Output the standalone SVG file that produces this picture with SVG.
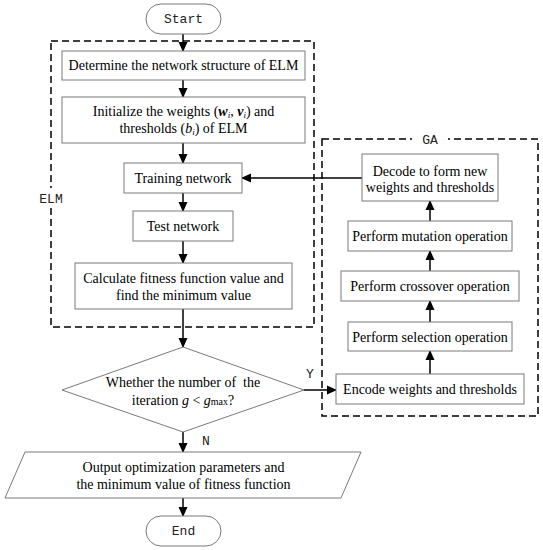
<svg xmlns="http://www.w3.org/2000/svg" width="543" height="550" viewBox="0 0 543 550">
<style>
.box{fill:#fff;stroke:#7a7a7a;stroke-width:1}
.dash{fill:none;stroke:#000;stroke-width:1.5;stroke-dasharray:7,4}
.t{font-family:"Liberation Serif","Times New Roman",serif;font-size:14px;fill:#000;text-anchor:middle}
.m{font-family:"Liberation Mono","Courier New",monospace;font-size:13px;fill:#222;text-anchor:middle}
.c{fill:none;stroke:#000;stroke-width:1.5}
</style>
<defs>
<marker id="ah" markerWidth="10" markerHeight="10" refX="9" refY="5" orient="auto" markerUnits="userSpaceOnUse">
<path d="M0,0.5 L10,5 L0,9.5 Z" fill="#000"/>
</marker>
</defs>
<rect width="543" height="550" fill="#fff"/>
<g id="elm-group">
<rect class="dash" x="51" y="41" width="263" height="286"/>
<rect x="36" y="188" width="30" height="18" fill="#fff"/>
<text class="m" x="51" y="203">ELM</text>
</g>
<g id="ga-group">
<rect class="dash" x="322" y="139" width="216" height="277"/>
<rect x="412" y="130" width="36" height="18" fill="#fff"/>
<text class="m" x="430" y="144">GA</text>
</g>
<g id="connectors">
<line class="c" x1="183" y1="34" x2="183" y2="51" marker-end="url(#ah)"/>
<line class="c" x1="183" y1="80" x2="183" y2="97" marker-end="url(#ah)"/>
<line class="c" x1="183" y1="143" x2="183" y2="163" marker-end="url(#ah)"/>
<line class="c" x1="183" y1="193" x2="183" y2="211" marker-end="url(#ah)"/>
<line class="c" x1="183" y1="241" x2="183" y2="263" marker-end="url(#ah)"/>
<line class="c" x1="183" y1="309" x2="183" y2="347" marker-end="url(#ah)"/>
<line class="c" x1="183" y1="432" x2="183" y2="452" marker-end="url(#ah)"/>
<line class="c" x1="183" y1="498" x2="183" y2="516" marker-end="url(#ah)"/>
<line class="c" x1="304" y1="390" x2="336" y2="390" marker-end="url(#ah)"/>
<line class="c" x1="430" y1="374" x2="430" y2="351" marker-end="url(#ah)"/>
<line class="c" x1="430" y1="322" x2="430" y2="301" marker-end="url(#ah)"/>
<line class="c" x1="430" y1="271" x2="430" y2="251" marker-end="url(#ah)"/>
<line class="c" x1="430" y1="221" x2="430" y2="201" marker-end="url(#ah)"/>
<line class="c" x1="362" y1="178" x2="242" y2="178" marker-end="url(#ah)"/>
<text class="m" x="310" y="378">Y</text>
<text class="m" x="206" y="445">N</text>
</g>
<g id="start">
<rect class="box" x="146" y="4" width="75" height="30" rx="15" ry="15"/>
<text class="m" x="183.5" y="23">Start</text>
</g>
<g id="determine">
<rect class="box" x="62" y="51" width="243" height="29"/>
<text class="t" x="183.5" y="70">Determine the network structure of ELM</text>
</g>
<g id="initialize">
<rect class="box" x="62" y="97" width="243" height="46"/>
<text class="t" x="183.5" y="116">Initialize the weights (<tspan font-weight="bold" font-style="italic">w</tspan><tspan font-size="9" font-style="italic" dy="2">i</tspan><tspan dy="-2">, </tspan><tspan font-weight="bold" font-style="italic">v</tspan><tspan font-size="9" font-style="italic" dy="2">i</tspan><tspan dy="-2">) and</tspan></text>
<text class="t" x="183.5" y="133">thresholds (<tspan font-style="italic">b</tspan><tspan font-size="9" font-style="italic" dy="2">i</tspan><tspan dy="-2">) of ELM</tspan></text>
</g>
<g id="training">
<rect class="box" x="124" y="163" width="118" height="30"/>
<text class="t" x="183" y="183">Training network</text>
</g>
<g id="test">
<rect class="box" x="133" y="211" width="100" height="30"/>
<text class="t" x="183" y="231">Test network</text>
</g>
<g id="calculate">
<rect class="box" x="75" y="263" width="217" height="46"/>
<text class="t" x="183.5" y="283">Calculate fitness function value and</text>
<text class="t" x="183.5" y="300">find the minimum value</text>
</g>
<g id="decision">
<polygon class="box" points="183,347 304,390 183,432 62,390"/>
<text class="t" x="183" y="387" style="white-space:pre">Whether the number of  the</text>
<text class="t" x="183" y="405">iteration <tspan font-style="italic">g</tspan> &lt; <tspan font-style="italic">g</tspan><tspan font-size="10">max</tspan>?</text>
</g>
<g id="output">
<polygon class="box" points="25,452 361,452 341,498 5,498"/>
<text class="t" x="183.5" y="472">Output optimization parameters and</text>
<text class="t" x="183.5" y="489">the minimum value of fitness function</text>
</g>
<g id="end">
<rect class="box" x="146" y="516" width="75" height="30" rx="15" ry="15"/>
<text class="m" x="183.5" y="535">End</text>
</g>
<g id="decode">
<rect class="box" x="362" y="154" width="136" height="47"/>
<text class="t" x="430" y="176">Decode to form new</text>
<text class="t" x="430" y="192">weights and thresholds</text>
</g>
<g id="mutation">
<rect class="box" x="348" y="221" width="164" height="30"/>
<text class="t" x="430" y="241">Perform mutation operation</text>
</g>
<g id="crossover">
<rect class="box" x="341" y="271" width="178" height="30"/>
<text class="t" x="430" y="291">Perform crossover operation</text>
</g>
<g id="selection">
<rect class="box" x="348" y="322" width="164" height="29"/>
<text class="t" x="430" y="342">Perform selection operation</text>
</g>
<g id="encode">
<rect class="box" x="336" y="374" width="188" height="30"/>
<text class="t" x="430" y="394">Encode weights and thresholds</text>
</g>
</svg>
